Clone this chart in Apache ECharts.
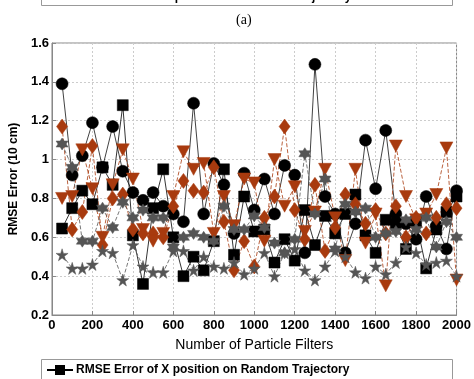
<!DOCTYPE html>
<html>
<head>
<meta charset="utf-8">
<script src="https://cdn.jsdelivr.net/npm/echarts@6/dist/echarts.min.js"></script>
<style>
  html, body { margin: 0; padding: 0; background: #fff; }
  #chart { width: 474px; height: 379px; }
</style>
</head>
<body>
<div id="chart"></div>
<script>
// number of particle filters (x)
var filters = [];
for (var n = 50; n <= 2000; n += 50) filters.push(n);

// values, one per x position
var squareVals = [0.645, 0.75, 0.84, 0.77, 0.96, 0.87, 1.28, 0.61, 0.36, 0.75,
  0.95, 0.60, 0.40, 0.50, 0.43, 0.58, 0.95, 0.51, 0.81, 0.63,
  0.64, 0.47, 0.59, 0.48, 0.74, 0.56, 0.71, 0.62, 0.72, 0.82,
  0.61, 0.52, 0.69, 0.67, 0.54, 0.68, 0.44, 0.64, 0.73, 0.81];
var circleVals = [1.39, 0.92, 1.02, 1.19, 0.96, 1.17, 0.94, 0.83, 0.79, 0.83,
  0.76, 0.72, 0.68, 1.29, 0.72, 0.98, 0.87, 0.62, 0.93, 0.74,
  0.90, 0.72, 0.97, 0.92, 0.52, 1.49, 0.81, 0.72, 0.52, 0.67,
  1.10, 0.85, 1.15, 0.72, 0.67, 0.59, 0.81, 0.66, 0.54, 0.84];
var diamondVals = [1.17, 0.64, 0.73, 1.07, 0.56, 0.80, 0.82, 0.64, 0.62, 0.62,
  0.60, 0.76, 0.89, 0.84, 0.83, 0.96, 0.68, 0.43, 0.58, 0.45,
  0.70, 0.81, 1.17, 0.74, 0.59, 0.87, 0.53, 0.65, 0.82, 0.77,
  0.67, 0.74, 0.62, 0.76, 0.60, 0.70, 0.62, 0.70, 0.77, 0.75];
var triangleVals = [0.80, 0.81, 1.05, 0.85, 0.60, 0.87, 1.05, 0.90, 0.64, 0.58,
  0.62, 0.81, 1.04, 0.95, 0.98, 0.62, 0.81, 0.66, 0.90, 0.88,
  0.58, 1.00, 0.76, 0.86, 0.63, 0.73, 0.95, 0.70, 0.48, 0.95,
  0.57, 0.72, 0.35, 1.07, 0.81, 0.69, 0.72, 0.82, 1.06, 0.38];
var hexVals = [1.08, 0.96, 0.58, 0.58, 0.75, 0.65, 0.78, 0.70, 0.74, 0.70,
  0.70, 0.55, 0.60, 0.62, 0.60, 0.58, 0.76, 0.64, 0.64, 0.71,
  0.65, 0.57, 0.52, 0.59, 1.03, 0.72, 0.90, 0.54, 0.77, 0.73,
  0.75, 0.60, 0.62, 0.63, 0.69, 0.64, 0.70, 0.55, 0.68, 0.60];
var starVals = [0.51, 0.44, 0.44, 0.46, 0.53, 0.52, 0.38, 0.56, 0.45, 0.42,
  0.42, 0.53, 0.53, 0.43, 0.50, 0.45, 0.44, 0.47, 0.41, 0.44,
  0.52, 0.40, 0.52, 0.54, 0.43, 0.38, 0.45, 0.53, 0.50, 0.42,
  0.39, 0.45, 0.41, 0.47, 0.55, 0.52, 0.46, 0.47, 0.48, 0.40];

var pentagram = 'path://M50,0 L61,35 L98,35 L68,57 L79,91 L50,70 L21,91 L32,57 L2,35 L39,35 Z';
var hexagram = 'path://M50,0 L64,25 L93,25 L79,50 L93,75 L64,75 L50,100 L36,75 L7,75 L21,50 L7,25 L36,25 Z';

var brown = '#a83a0e';
var gray = '#555';

function pairs(vals) {
  return filters.map(function (x, i) { return [x, vals[i]]; });
}

function mkSeries(name, vals, symbol, size, color, lineColor, dashed, extra) {
  var s = {
    name: name,
    type: 'line',
    data: pairs(vals),
    symbol: symbol,
    symbolSize: size,
    showAllSymbol: true,
    animation: false,
    itemStyle: { color: color, borderColor: color, borderWidth: 0.5 },
    lineStyle: { color: lineColor, width: 0.8, type: dashed ? [4, 2] : 'solid' }
  };
  if (extra) for (var k in extra) s[k] = extra[k];
  return s;
}

var chart = echarts.init(document.getElementById('chart'));

var tickFont = { color: '#000', fontFamily: 'Liberation Sans Narrow, Arial, sans-serif', fontSize: 13, fontWeight: 'bold' };

var option = {
  backgroundColor: '#fff',
  animation: false,
  grid: { left: 28, right: 11, top: 43, bottom: 64, show: true, borderColor: '#888', borderWidth: 1 },
  xAxis: {
    type: 'value', min: 0, max: 2000, interval: 200,
    name: 'Number of Particle Filters', nameLocation: 'middle', nameGap: 23,
    nameTextStyle: { color: '#000', fontFamily: 'Liberation Sans Narrow, Arial, sans-serif', fontSize: 14 },
    axisLine: { lineStyle: { color: '#888' } },
    axisTick: { inside: true, length: 4, lineStyle: { color: '#888' } },
    axisLabel: Object.assign({ margin: 4, formatter: function (v) { return String(v); } }, tickFont),
    splitLine: { show: true, lineStyle: { color: '#ccc', type: [2, 2] } }
  },
  yAxis: {
    type: 'value', min: 0.2, max: 1.6, interval: 0.2,
    name: 'RMSE Error (10 cm)', nameLocation: 'middle', nameGap: 24,
    nameTextStyle: { color: '#000', fontFamily: 'Arial, Liberation Sans, sans-serif', fontSize: 12, fontWeight: 'bold' },
    axisLine: { show: true, lineStyle: { color: '#888' } },
    axisTick: { show: true, inside: true, length: 4, lineStyle: { color: '#888' } },
    axisLabel: Object.assign({ margin: 3 }, tickFont),
    splitLine: { show: true, lineStyle: { color: '#ccc', type: [2, 2] } }
  },
  legend: {
    data: ['RMSE Error of X position on Random Trajectory'],
    left: 44, top: 362,
    padding: 2,
    itemWidth: 26, itemHeight: 10, itemGap: 4,
    textStyle: { color: '#000', fontFamily: 'Arial, Liberation Sans, sans-serif', fontSize: 12, fontWeight: 'bold', padding: [0, 0, 0, -2] }
  },
  graphic: [
    { type: 'rect', left: 41, top: -20, shape: { width: 411, height: 25 }, style: { fill: '#fff', stroke: '#999', lineWidth: 1 } },
    { type: 'text', left: 78, top: -9, style: { text: 'RMSE Error of Y position on Random Trajectory', fill: '#000', font: 'bold 12px Arial' } },
    { type: 'text', left: 236, top: 13, style: { text: '(a)', fill: '#000', font: '14px "Liberation Serif", serif' } },
    { type: 'rect', left: 41, top: 359, z: -1, shape: { width: 411, height: 30 }, style: { fill: '#fff', stroke: '#999', lineWidth: 1 } }
  ],
  series: [
    mkSeries('RMSE Error of X position on Random Trajectory', squareVals, 'rect', 11, '#000', '#000', false),
    mkSeries('RMSE Error of X position (circle)', circleVals, 'circle', 12, '#000', '#111', false),
    mkSeries('diamond series', diamondVals, 'diamond', [11, 15], brown, brown, true),
    mkSeries('triangle series', triangleVals, 'triangle', [13, 12], brown, brown, true, { symbolRotate: 180 }),
    mkSeries('hexagram series', hexVals, hexagram, 12, gray, gray, true),
    mkSeries('pentagram series', starVals, pentagram, 12, gray, gray, true)
  ]
};

chart.setOption(option);
</script>
</body>
</html>
